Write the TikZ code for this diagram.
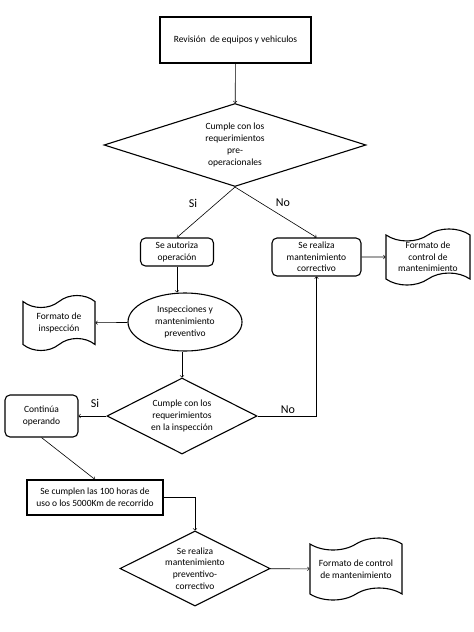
\documentclass[tikz,border=0pt]{standalone}
\usepackage{fontspec}
\setmainfont{Carlito}
\usetikzlibrary{shapes.geometric,shapes.symbols}
\tikzset{
  box/.style={draw,line width=1.1pt,align=center,inner sep=1pt},
  rbox/.style={box,rounded corners=5pt},
  decision/.style={box,diamond,aspect=2,inner sep=-6pt},
  doc/.style={box,tape,tape bend height=12pt},
  lbl/.style={font=\fontsize{12}{14}\selectfont}
}
\begin{document}
\begin{tikzpicture}[x=1pt,y=-1pt,font=\fontsize{9.5}{11.7}\selectfont,>=To]
  \useasboundingbox (0,0) rectangle (474,632);
  \node[box,minimum width=151pt,minimum height=46pt] (rev) at (235.5,40) {Revisión\ \ de equipos y vehiculos};
  \node[decision,minimum width=262pt,minimum height=83pt] (d1) at (235,145) {Cumple con los\\requerimientos\\pre-\\operacionales};
  \node[rbox,minimum width=73pt,minimum height=28pt] (aut) at (177,252) {Se autoriza\\operación};
  \node[rbox,minimum width=89pt,minimum height=38pt] (cor) at (316.5,257) {Se realiza\\mantenimiento\\correctivo};
  \node[doc,minimum width=84pt,minimum height=55pt] (fcm1) at (428,257) {Formato de\\control de\\mantenimiento};
  \node[box,ellipse,inner sep=0pt,minimum width=114pt,minimum height=58pt] (insp) at (185,322) {Inspecciones y\\mantenimiento\\preventivo};
  \node[doc,minimum width=72pt,minimum height=55pt] (fi) at (59,323) {Formato de\\inspección};
  \node[decision,minimum width=150pt,minimum height=76pt] (d2) at (182,416) {Cumple con los\\requerimientos\\en la inspección};
  \node[rbox,minimum width=73pt,minimum height=42pt] (cont) at (41.5,416) {Continúa\\operando};
  \node[box,minimum width=136pt,minimum height=35pt] (hr) at (95,497.5) {Se cumplen las 100 horas de\\uso o los 5000Km de recorrido};
  \node[decision,minimum width=150pt,minimum height=75pt] (d3) at (195,568.5) {Se realiza\\mantenimiento\\preventivo-\\correctivo};
  \node[doc,minimum width=92pt,minimum height=62pt] (fcm2) at (356,569) {Formato de control\\de mantenimiento};
  \node[lbl] (si1) at (193,203) {Si};
  \node[lbl] (no1) at (283,203) {No};
  \node[lbl] (si2) at (95,403) {Si};
  \node[lbl] (no2) at (288,410) {No};
  \begin{scope}[->,line width=0.6pt]
    \draw (rev) to (d1);
    \draw (d1.south) to (aut.north);
    \draw (d1.south) to (cor.north);
    \draw (cor) to (fcm1);
    \draw (aut.south) to (aut.south |- insp.north);
    \draw (insp) to (fi);
    \draw (insp.south -| d2.north) to (d2.north);
    \draw (d2) to (cont);
    \draw (d2.east) -- (cor.south |- d2.east) -- (cor.south);
    \draw (cont.south) to (hr.north);
    \draw (hr.east) -| (d3.north);
    \draw (d3) to (fcm2);
  \end{scope}
\end{tikzpicture}
\end{document}
